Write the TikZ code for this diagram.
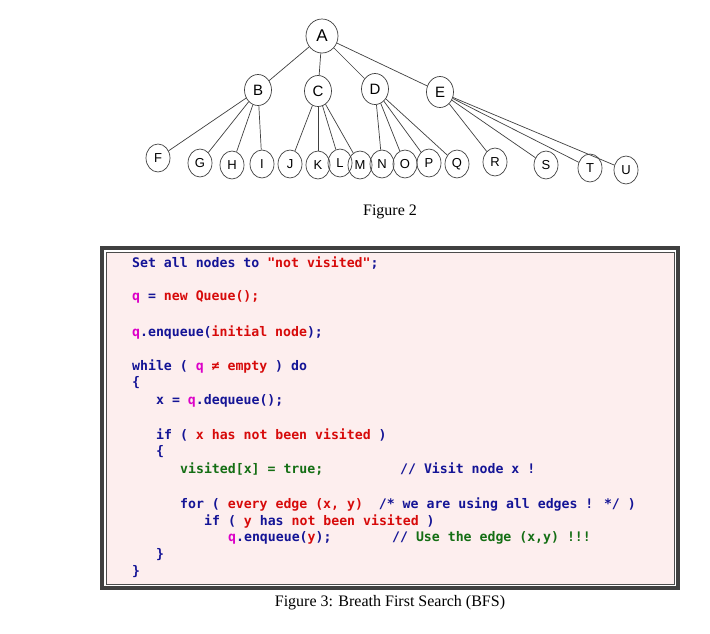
\documentclass[tikz,border=0pt]{standalone}
\usepackage{fontspec}
\setmainfont{Liberation Serif}
\newfontfamily\codefont{DejaVu Sans Mono Bold}[Scale=1]
\newfontfamily\handfont{Liberation Sans}
\usetikzlibrary{shapes.geometric}
\definecolor{cb}{RGB}{20,20,150}
\definecolor{cr}{RGB}{215,10,10}
\definecolor{cm}{RGB}{220,0,200}
\definecolor{cg}{RGB}{20,110,20}
\definecolor{boxfill}{RGB}{253,238,238}
\newcommand{\B}[1]{\textcolor{cb}{#1}}
\newcommand{\R}[1]{\textcolor{cr}{#1}}
\newcommand{\M}[1]{\textcolor{cm}{#1}}
\newcommand{\G}[1]{\textcolor{cg}{#1}}
\begin{document}
\begin{tikzpicture}[x=1pt,y=-1pt,
  tn/.style={ellipse,draw=black!75,line width=0.7pt,minimum width=24pt,minimum height=28pt,inner sep=0pt,font=\handfont\fontsize{13}{13}\selectfont},
  big/.style={tn,minimum width=32pt,minimum height=34pt,font=\handfont\fontsize{17}{17}\selectfont},
  mid/.style={tn,minimum width=27pt,minimum height=31pt,font=\handfont\fontsize{15}{15}\selectfont},
  ed/.style={draw=black!75,line width=0.7pt},
  code/.style={anchor=west,inner sep=0pt,font=\codefont\fontsize{13.2}{13.2}\selectfont},
  figcap/.style={font=\fontsize{16}{16}\selectfont}]
\useasboundingbox (0,0) rectangle (710,633);
\fill[white] (0,0) rectangle (710,633);
% tree
\node[big] (A) at (322,36) {A};
\node[mid] (B) at (258,90) {B};
\node[mid] (C) at (318,91) {C};
\node[mid] (D) at (375,89) {D};
\node[mid] (E) at (440,92) {E};
\foreach \n/\x/\y in {F/158/158,G/200/163,H/232/165,I/262/164,J/290/164,K/318/165,L/340/163,M/360/165,N/382/164,O/405/164,P/429/163,Q/457/164,R/495/162,S/546/165,T/590/168,U/626/170}
  \node[tn] (\n) at (\x,\y) {\n};
\foreach \c in {B,C,D,E} \draw[ed] (A) -- (\c);
\foreach \c in {F,G,H,I} \draw[ed] (B) -- (\c);
\foreach \c in {J,K,L,M} \draw[ed] (C) -- (\c);
\foreach \c in {N,O,P,Q} \draw[ed] (D) -- (\c);
\foreach \c in {R,S,T,U} \draw[ed] (E) -- (\c);
\node[figcap] (f2) at (390,212) {Figure 2};
% box
\fill[black!75] (100,246) rectangle (680,590);
\fill[white] (104,250) rectangle (676,586);
\draw[black!70,fill=boxfill,line width=0.6pt] (106,252) rectangle (674,584);
\node[code] (l1) at (132,263) {\B{Set all nodes to\ }\R{"not visited"}\B{;}};
\node[code] (l2) at (132,297) {\M{q}\B{\ =\ }\R{new Queue();}};
\node[code] (l3) at (132,332) {\M{q}\B{.enqueue(}\R{initial node}\B{);}};
\node[code] (l4) at (132,366) {\B{while (\ }\M{q}\R{\ ≠ empty}\B{\ ) do}};
\node[code] (l5) at (132,383) {\B{\{}};
\node[code] (l6) at (156,401) {\B{x =\ }\M{q}\B{.dequeue();}};
\node[code] (l7) at (156,435) {\B{if (\ }\R{x has not been visited}\B{\ )}};
\node[code] (l8) at (156,452) {\B{\{}};
\node[code] (l9) at (180,469) {\G{visited[x] = true;}};
\node[code] (l9c) at (400,469) {\B{// Visit node x !}};
\node[code] (l10) at (180,504) {\B{for (\ }\R{every edge (x, y)}\B{\ \ /* we are using all edges ! */ )}};
\node[code] (l11) at (204,521) {\B{if (\ }\R{y}\B{\ has\ }\R{not been visited}\B{\ )}};
\node[code] (l12) at (228,538) {\M{q}\B{.enqueue(}\R{y}\B{);}};
\node[code] (l12c) at (392,538) {\B{//}\G{\ Use the edge (x,y) !!!}};
\node[code] (l13) at (156,555) {\B{\}}};
\node[code] (l14) at (132,572) {\B{\}}};
\node[figcap] (f3) at (390,603) {Figure 3: Breath First Search (BFS)};
\end{tikzpicture}
\end{document}
